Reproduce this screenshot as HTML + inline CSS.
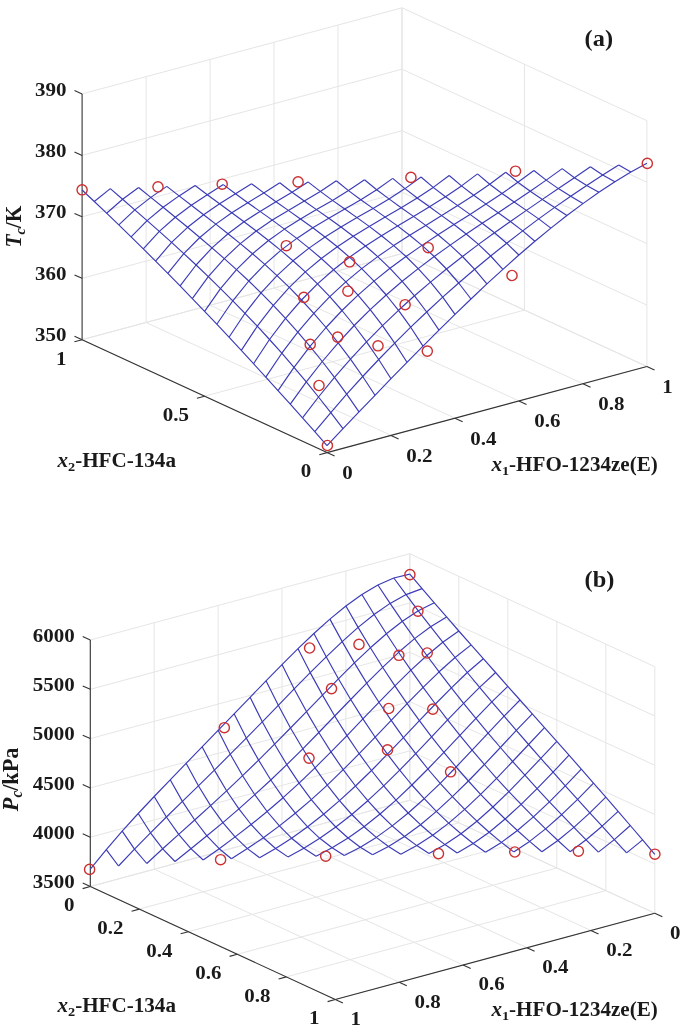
<!DOCTYPE html>
<html><head><meta charset="utf-8"><title>Critical surfaces</title>
<style>html,body{margin:0;padding:0;background:#fff}svg{display:block}text{font-family:"Liberation Serif",serif;font-weight:bold;fill:#1a1a1a}</style>
</head><body>
<svg width="685" height="1032" viewBox="0 0 685 1032">
<rect width="685" height="1032" fill="#fff"/>
<line x1="82.1" y1="339.7" x2="402.0" y2="253.6" stroke="#e5e5e5" stroke-width="1.0"/>
<line x1="402.0" y1="253.6" x2="646.9" y2="366.5" stroke="#e5e5e5" stroke-width="1.0"/>
<line x1="82.1" y1="278.3" x2="402.0" y2="192.2" stroke="#e5e5e5" stroke-width="1.0"/>
<line x1="402.0" y1="192.2" x2="646.9" y2="305.1" stroke="#e5e5e5" stroke-width="1.0"/>
<line x1="82.1" y1="216.8" x2="402.0" y2="130.7" stroke="#e5e5e5" stroke-width="1.0"/>
<line x1="402.0" y1="130.7" x2="646.9" y2="243.6" stroke="#e5e5e5" stroke-width="1.0"/>
<line x1="82.1" y1="155.4" x2="402.0" y2="69.2" stroke="#e5e5e5" stroke-width="1.0"/>
<line x1="402.0" y1="69.2" x2="646.9" y2="182.2" stroke="#e5e5e5" stroke-width="1.0"/>
<line x1="82.1" y1="93.9" x2="402.0" y2="7.8" stroke="#e5e5e5" stroke-width="1.0"/>
<line x1="402.0" y1="7.8" x2="646.9" y2="120.7" stroke="#e5e5e5" stroke-width="1.0"/>
<line x1="327.0" y1="452.6" x2="82.1" y2="339.7" stroke="#e5e5e5" stroke-width="1.0"/>
<line x1="146.1" y1="322.5" x2="146.1" y2="76.7" stroke="#e5e5e5" stroke-width="1.0"/>
<line x1="391.0" y1="435.4" x2="146.1" y2="322.5" stroke="#e5e5e5" stroke-width="1.0"/>
<line x1="210.1" y1="305.3" x2="210.1" y2="59.5" stroke="#e5e5e5" stroke-width="1.0"/>
<line x1="455.0" y1="418.2" x2="210.1" y2="305.3" stroke="#e5e5e5" stroke-width="1.0"/>
<line x1="274.0" y1="288.0" x2="274.0" y2="42.2" stroke="#e5e5e5" stroke-width="1.0"/>
<line x1="518.9" y1="400.9" x2="274.0" y2="288.0" stroke="#e5e5e5" stroke-width="1.0"/>
<line x1="338.0" y1="270.8" x2="338.0" y2="25.0" stroke="#e5e5e5" stroke-width="1.0"/>
<line x1="582.9" y1="383.7" x2="338.0" y2="270.8" stroke="#e5e5e5" stroke-width="1.0"/>
<line x1="402.0" y1="253.6" x2="402.0" y2="7.8" stroke="#e5e5e5" stroke-width="1.0"/>
<line x1="646.9" y1="366.5" x2="402.0" y2="253.6" stroke="#e5e5e5" stroke-width="1.0"/>
<line x1="646.9" y1="366.5" x2="646.9" y2="120.7" stroke="#e5e5e5" stroke-width="1.0"/>
<line x1="327.0" y1="452.6" x2="646.9" y2="366.5" stroke="#e5e5e5" stroke-width="1.0"/>
<line x1="524.4" y1="310.1" x2="524.4" y2="64.3" stroke="#e5e5e5" stroke-width="1.0"/>
<line x1="204.6" y1="396.2" x2="524.4" y2="310.1" stroke="#e5e5e5" stroke-width="1.0"/>
<line x1="402.0" y1="253.6" x2="402.0" y2="7.8" stroke="#e5e5e5" stroke-width="1.0"/>
<line x1="82.1" y1="339.7" x2="402.0" y2="253.6" stroke="#e5e5e5" stroke-width="1.0"/>
<line x1="82.1" y1="339.7" x2="82.1" y2="93.9" stroke="#333333" stroke-width="1.1"/>
<line x1="327.0" y1="452.6" x2="82.1" y2="339.7" stroke="#333333" stroke-width="1.1"/>
<line x1="327.0" y1="452.6" x2="646.9" y2="366.5" stroke="#333333" stroke-width="1.1"/>
<line x1="82.1" y1="339.7" x2="74.5" y2="336.3" stroke="#333333" stroke-width="1.1"/>
<text transform="translate(66.5,341.3) scale(1.06,1)" font-size="19.8" text-anchor="end" >350</text>
<line x1="82.1" y1="278.3" x2="74.5" y2="274.9" stroke="#333333" stroke-width="1.1"/>
<text transform="translate(66.5,279.9) scale(1.06,1)" font-size="19.8" text-anchor="end" >360</text>
<line x1="82.1" y1="216.8" x2="74.5" y2="213.4" stroke="#333333" stroke-width="1.1"/>
<text transform="translate(66.5,218.4) scale(1.06,1)" font-size="19.8" text-anchor="end" >370</text>
<line x1="82.1" y1="155.4" x2="74.5" y2="152.0" stroke="#333333" stroke-width="1.1"/>
<text transform="translate(66.5,157.0) scale(1.06,1)" font-size="19.8" text-anchor="end" >380</text>
<line x1="82.1" y1="93.9" x2="74.5" y2="90.5" stroke="#333333" stroke-width="1.1"/>
<text transform="translate(66.5,95.5) scale(1.06,1)" font-size="19.8" text-anchor="end" >390</text>
<line x1="327.0" y1="452.6" x2="319.3" y2="454.7" stroke="#333333" stroke-width="1.1"/>
<text transform="translate(311.3,477.4) scale(1.06,1)" font-size="19.8" text-anchor="end" >0</text>
<line x1="204.6" y1="396.2" x2="196.9" y2="398.3" stroke="#333333" stroke-width="1.1"/>
<text transform="translate(188.9,421.0) scale(1.06,1)" font-size="19.8" text-anchor="end" >0.5</text>
<line x1="82.1" y1="339.7" x2="74.4" y2="341.8" stroke="#333333" stroke-width="1.1"/>
<text transform="translate(66.4,364.5) scale(1.06,1)" font-size="19.8" text-anchor="end" >1</text>
<line x1="327.0" y1="452.6" x2="334.6" y2="456.1" stroke="#333333" stroke-width="1.1"/>
<text transform="translate(342.3,478.9) scale(1.06,1)" font-size="19.8" text-anchor="start" >0</text>
<line x1="391.0" y1="435.4" x2="398.6" y2="438.9" stroke="#333333" stroke-width="1.1"/>
<text transform="translate(406.3,461.7) scale(1.06,1)" font-size="19.8" text-anchor="start" >0.2</text>
<line x1="455.0" y1="418.2" x2="462.6" y2="421.7" stroke="#333333" stroke-width="1.1"/>
<text transform="translate(470.3,444.5) scale(1.06,1)" font-size="19.8" text-anchor="start" >0.4</text>
<line x1="518.9" y1="400.9" x2="526.5" y2="404.4" stroke="#333333" stroke-width="1.1"/>
<text transform="translate(534.2,427.2) scale(1.06,1)" font-size="19.8" text-anchor="start" >0.6</text>
<line x1="582.9" y1="383.7" x2="590.5" y2="387.2" stroke="#333333" stroke-width="1.1"/>
<text transform="translate(598.2,410.0) scale(1.06,1)" font-size="19.8" text-anchor="start" >0.8</text>
<line x1="646.9" y1="366.5" x2="654.5" y2="370.0" stroke="#333333" stroke-width="1.1"/>
<text transform="translate(662.2,392.8) scale(1.06,1)" font-size="19.8" text-anchor="start" >1</text>
<polyline fill="none" stroke="#3a3ab8" stroke-width="1.15" stroke-linejoin="round" points="327.0,445.6 343.0,428.7 359.0,411.9 375.0,395.3 391.0,378.7 407.0,362.3 423.0,346.1 439.0,330.1 455.0,314.4 471.0,299.0 486.9,283.9 502.9,269.3 518.9,255.0 534.9,241.3 550.9,228.1 566.9,215.5 582.9,203.6 598.9,192.3 614.9,181.8 630.9,172.1 646.9,163.2"/>
<polyline fill="none" stroke="#3a3ab8" stroke-width="1.15" stroke-linejoin="round" points="314.8,431.7 330.8,412.6 346.7,394.2 362.7,376.5 378.7,359.5 394.7,343.1 410.7,327.2 426.7,312.0 442.7,297.2 458.7,283.0 474.7,269.3 490.7,256.0 506.7,243.2 522.7,230.9 538.7,218.9 554.7,207.4 570.7,196.2 586.7,185.4 602.7,175.0 618.7,165.0"/>
<polyline fill="none" stroke="#3a3ab8" stroke-width="1.15" stroke-linejoin="round" points="302.5,417.9 318.5,397.0 334.5,377.4 350.5,359.1 366.5,341.8 382.5,325.6 398.5,310.3 414.5,295.8 430.5,282.1 446.5,269.0 462.5,256.5 478.5,244.4 494.5,232.8 510.4,221.5 526.4,210.4 542.4,199.4 558.4,188.6 574.4,177.7 590.4,166.8"/>
<polyline fill="none" stroke="#3a3ab8" stroke-width="1.15" stroke-linejoin="round" points="290.3,404.2 306.3,381.9 322.3,361.5 338.2,342.8 354.2,325.5 370.2,309.7 386.2,295.0 402.2,281.3 418.2,268.6 434.2,256.5 450.2,245.1 466.2,234.0 482.2,223.3 498.2,212.7 514.2,202.0 530.2,191.2 546.2,180.1 562.2,168.6"/>
<polyline fill="none" stroke="#3a3ab8" stroke-width="1.15" stroke-linejoin="round" points="278.0,390.6 294.0,367.3 310.0,346.4 326.0,327.5 342.0,310.5 358.0,295.1 374.0,281.1 390.0,268.3 406.0,256.5 422.0,245.4 438.0,234.8 454.0,224.5 470.0,214.4 486.0,204.1 502.0,193.5 517.9,182.3 533.9,170.5"/>
<polyline fill="none" stroke="#3a3ab8" stroke-width="1.15" stroke-linejoin="round" points="265.8,377.1 281.8,353.2 297.8,332.1 313.8,313.3 329.8,296.7 345.8,281.9 361.7,268.6 377.7,256.6 393.7,245.6 409.7,235.3 425.7,225.4 441.7,215.6 457.7,205.6 473.7,195.3 489.7,184.2 505.7,172.2"/>
<polyline fill="none" stroke="#3a3ab8" stroke-width="1.15" stroke-linejoin="round" points="253.5,363.7 269.5,339.5 285.5,318.4 301.5,300.0 317.5,283.9 333.5,269.7 349.5,257.2 365.5,246.0 381.5,235.7 397.5,225.9 413.5,216.4 429.5,206.8 445.5,196.8 461.5,185.9 477.5,173.9"/>
<polyline fill="none" stroke="#3a3ab8" stroke-width="1.15" stroke-linejoin="round" points="241.3,350.4 257.3,326.2 273.3,305.4 289.3,287.4 305.3,271.9 321.3,258.5 337.3,246.7 353.2,236.2 369.2,226.4 385.2,217.1 401.2,207.7 417.2,198.0 433.2,187.4 449.2,175.5"/>
<polyline fill="none" stroke="#3a3ab8" stroke-width="1.15" stroke-linejoin="round" points="229.0,337.2 245.0,313.3 261.0,292.9 277.0,275.6 293.0,260.8 309.0,248.1 325.0,237.0 341.0,227.0 357.0,217.6 373.0,208.4 389.0,198.9 405.0,188.6 421.0,177.0"/>
<polyline fill="none" stroke="#3a3ab8" stroke-width="1.15" stroke-linejoin="round" points="216.8,324.2 232.8,300.8 248.8,281.0 264.8,264.4 280.8,250.4 296.8,238.4 312.8,227.8 328.8,218.2 344.8,209.0 360.8,199.7 376.7,189.7 392.7,178.4"/>
<polyline fill="none" stroke="#3a3ab8" stroke-width="1.15" stroke-linejoin="round" points="204.6,311.3 220.5,288.6 236.5,269.6 252.5,253.8 268.5,240.5 284.5,229.1 300.5,219.0 316.5,209.6 332.5,200.4 348.5,190.6 364.5,179.7"/>
<polyline fill="none" stroke="#3a3ab8" stroke-width="1.15" stroke-linejoin="round" points="192.3,298.6 208.3,276.7 224.3,258.6 240.3,243.6 256.3,231.0 272.3,220.1 288.3,210.4 304.3,201.0 320.3,191.4 336.3,180.8"/>
<polyline fill="none" stroke="#3a3ab8" stroke-width="1.15" stroke-linejoin="round" points="180.1,285.9 196.1,265.0 212.0,247.9 228.0,233.7 244.0,221.8 260.0,211.4 276.0,201.8 292.0,192.2 308.0,181.9"/>
<polyline fill="none" stroke="#3a3ab8" stroke-width="1.15" stroke-linejoin="round" points="167.8,273.4 183.8,253.6 199.8,237.5 215.8,224.1 231.8,212.8 247.8,202.7 263.8,192.9 279.8,182.8"/>
<polyline fill="none" stroke="#3a3ab8" stroke-width="1.15" stroke-linejoin="round" points="155.6,261.1 171.6,242.4 187.6,227.3 203.6,214.7 219.6,203.8 235.5,193.8 251.5,183.7"/>
<polyline fill="none" stroke="#3a3ab8" stroke-width="1.15" stroke-linejoin="round" points="143.3,248.9 159.3,231.4 175.3,217.2 191.3,205.3 207.3,194.8 223.3,184.6"/>
<polyline fill="none" stroke="#3a3ab8" stroke-width="1.15" stroke-linejoin="round" points="131.1,236.8 147.1,220.6 163.1,207.3 179.1,195.9 195.1,185.5"/>
<polyline fill="none" stroke="#3a3ab8" stroke-width="1.15" stroke-linejoin="round" points="118.8,224.9 134.8,209.9 150.8,197.4 166.8,186.4"/>
<polyline fill="none" stroke="#3a3ab8" stroke-width="1.15" stroke-linejoin="round" points="106.6,213.2 122.6,199.2 138.6,187.5"/>
<polyline fill="none" stroke="#3a3ab8" stroke-width="1.15" stroke-linejoin="round" points="94.3,201.5 110.3,188.6"/>
<polyline fill="none" stroke="#3a3ab8" stroke-width="1.15" stroke-linejoin="round" points="327.0,445.6 314.8,431.7 302.5,417.9 290.3,404.2 278.0,390.6 265.8,377.1 253.5,363.7 241.3,350.4 229.0,337.2 216.8,324.2 204.6,311.3 192.3,298.6 180.1,285.9 167.8,273.4 155.6,261.1 143.3,248.9 131.1,236.8 118.8,224.9 106.6,213.2 94.3,201.5 82.1,190.0"/>
<polyline fill="none" stroke="#3a3ab8" stroke-width="1.15" stroke-linejoin="round" points="343.0,428.7 330.8,412.6 318.5,397.0 306.3,381.9 294.0,367.3 281.8,353.2 269.5,339.5 257.3,326.2 245.0,313.3 232.8,300.8 220.5,288.6 208.3,276.7 196.1,265.0 183.8,253.6 171.6,242.4 159.3,231.4 147.1,220.6 134.8,209.9 122.6,199.2 110.3,188.6"/>
<polyline fill="none" stroke="#3a3ab8" stroke-width="1.15" stroke-linejoin="round" points="359.0,411.9 346.7,394.2 334.5,377.4 322.3,361.5 310.0,346.4 297.8,332.1 285.5,318.4 273.3,305.4 261.0,292.9 248.8,281.0 236.5,269.6 224.3,258.6 212.0,247.9 199.8,237.5 187.6,227.3 175.3,217.2 163.1,207.3 150.8,197.4 138.6,187.5"/>
<polyline fill="none" stroke="#3a3ab8" stroke-width="1.15" stroke-linejoin="round" points="375.0,395.3 362.7,376.5 350.5,359.1 338.2,342.8 326.0,327.5 313.8,313.3 301.5,300.0 289.3,287.4 277.0,275.6 264.8,264.4 252.5,253.8 240.3,243.6 228.0,233.7 215.8,224.1 203.6,214.7 191.3,205.3 179.1,195.9 166.8,186.4"/>
<polyline fill="none" stroke="#3a3ab8" stroke-width="1.15" stroke-linejoin="round" points="391.0,378.7 378.7,359.5 366.5,341.8 354.2,325.5 342.0,310.5 329.8,296.7 317.5,283.9 305.3,271.9 293.0,260.8 280.8,250.4 268.5,240.5 256.3,231.0 244.0,221.8 231.8,212.8 219.6,203.8 207.3,194.8 195.1,185.5"/>
<polyline fill="none" stroke="#3a3ab8" stroke-width="1.15" stroke-linejoin="round" points="407.0,362.3 394.7,343.1 382.5,325.6 370.2,309.7 358.0,295.1 345.8,281.9 333.5,269.7 321.3,258.5 309.0,248.1 296.8,238.4 284.5,229.1 272.3,220.1 260.0,211.4 247.8,202.7 235.5,193.8 223.3,184.6"/>
<polyline fill="none" stroke="#3a3ab8" stroke-width="1.15" stroke-linejoin="round" points="423.0,346.1 410.7,327.2 398.5,310.3 386.2,295.0 374.0,281.1 361.7,268.6 349.5,257.2 337.3,246.7 325.0,237.0 312.8,227.8 300.5,219.0 288.3,210.4 276.0,201.8 263.8,192.9 251.5,183.7"/>
<polyline fill="none" stroke="#3a3ab8" stroke-width="1.15" stroke-linejoin="round" points="439.0,330.1 426.7,312.0 414.5,295.8 402.2,281.3 390.0,268.3 377.7,256.6 365.5,246.0 353.2,236.2 341.0,227.0 328.8,218.2 316.5,209.6 304.3,201.0 292.0,192.2 279.8,182.8"/>
<polyline fill="none" stroke="#3a3ab8" stroke-width="1.15" stroke-linejoin="round" points="455.0,314.4 442.7,297.2 430.5,282.1 418.2,268.6 406.0,256.5 393.7,245.6 381.5,235.7 369.2,226.4 357.0,217.6 344.8,209.0 332.5,200.4 320.3,191.4 308.0,181.9"/>
<polyline fill="none" stroke="#3a3ab8" stroke-width="1.15" stroke-linejoin="round" points="471.0,299.0 458.7,283.0 446.5,269.0 434.2,256.5 422.0,245.4 409.7,235.3 397.5,225.9 385.2,217.1 373.0,208.4 360.8,199.7 348.5,190.6 336.3,180.8"/>
<polyline fill="none" stroke="#3a3ab8" stroke-width="1.15" stroke-linejoin="round" points="486.9,283.9 474.7,269.3 462.5,256.5 450.2,245.1 438.0,234.8 425.7,225.4 413.5,216.4 401.2,207.7 389.0,198.9 376.7,189.7 364.5,179.7"/>
<polyline fill="none" stroke="#3a3ab8" stroke-width="1.15" stroke-linejoin="round" points="502.9,269.3 490.7,256.0 478.5,244.4 466.2,234.0 454.0,224.5 441.7,215.6 429.5,206.8 417.2,198.0 405.0,188.6 392.7,178.4"/>
<polyline fill="none" stroke="#3a3ab8" stroke-width="1.15" stroke-linejoin="round" points="518.9,255.0 506.7,243.2 494.5,232.8 482.2,223.3 470.0,214.4 457.7,205.6 445.5,196.8 433.2,187.4 421.0,177.0"/>
<polyline fill="none" stroke="#3a3ab8" stroke-width="1.15" stroke-linejoin="round" points="534.9,241.3 522.7,230.9 510.4,221.5 498.2,212.7 486.0,204.1 473.7,195.3 461.5,185.9 449.2,175.5"/>
<polyline fill="none" stroke="#3a3ab8" stroke-width="1.15" stroke-linejoin="round" points="550.9,228.1 538.7,218.9 526.4,210.4 514.2,202.0 502.0,193.5 489.7,184.2 477.5,173.9"/>
<polyline fill="none" stroke="#3a3ab8" stroke-width="1.15" stroke-linejoin="round" points="566.9,215.5 554.7,207.4 542.4,199.4 530.2,191.2 517.9,182.3 505.7,172.2"/>
<polyline fill="none" stroke="#3a3ab8" stroke-width="1.15" stroke-linejoin="round" points="582.9,203.6 570.7,196.2 558.4,188.6 546.2,180.1 533.9,170.5"/>
<polyline fill="none" stroke="#3a3ab8" stroke-width="1.15" stroke-linejoin="round" points="598.9,192.3 586.7,185.4 574.4,177.7 562.2,168.6"/>
<polyline fill="none" stroke="#3a3ab8" stroke-width="1.15" stroke-linejoin="round" points="614.9,181.8 602.7,175.0 590.4,166.8"/>
<polyline fill="none" stroke="#3a3ab8" stroke-width="1.15" stroke-linejoin="round" points="630.9,172.1 618.7,165.0"/>
<circle cx="82.1" cy="189.8" r="5.1" fill="none" stroke="#cc3030" stroke-width="1.4"/>
<circle cx="158.0" cy="186.8" r="5.1" fill="none" stroke="#cc3030" stroke-width="1.4"/>
<circle cx="222.2" cy="184.2" r="5.1" fill="none" stroke="#cc3030" stroke-width="1.4"/>
<circle cx="298.1" cy="181.9" r="5.1" fill="none" stroke="#cc3030" stroke-width="1.4"/>
<circle cx="410.9" cy="177.4" r="5.1" fill="none" stroke="#cc3030" stroke-width="1.4"/>
<circle cx="515.5" cy="171.2" r="5.1" fill="none" stroke="#cc3030" stroke-width="1.4"/>
<circle cx="647.3" cy="163.4" r="5.1" fill="none" stroke="#cc3030" stroke-width="1.4"/>
<circle cx="286.3" cy="245.7" r="5.1" fill="none" stroke="#cc3030" stroke-width="1.4"/>
<circle cx="349.6" cy="261.8" r="5.1" fill="none" stroke="#cc3030" stroke-width="1.4"/>
<circle cx="428.2" cy="247.7" r="5.1" fill="none" stroke="#cc3030" stroke-width="1.4"/>
<circle cx="303.8" cy="297.4" r="5.1" fill="none" stroke="#cc3030" stroke-width="1.4"/>
<circle cx="347.9" cy="291.2" r="5.1" fill="none" stroke="#cc3030" stroke-width="1.4"/>
<circle cx="405.1" cy="304.7" r="5.1" fill="none" stroke="#cc3030" stroke-width="1.4"/>
<circle cx="310.2" cy="344.4" r="5.1" fill="none" stroke="#cc3030" stroke-width="1.4"/>
<circle cx="337.7" cy="337.1" r="5.1" fill="none" stroke="#cc3030" stroke-width="1.4"/>
<circle cx="378.0" cy="345.8" r="5.1" fill="none" stroke="#cc3030" stroke-width="1.4"/>
<circle cx="427.3" cy="351.1" r="5.1" fill="none" stroke="#cc3030" stroke-width="1.4"/>
<circle cx="319.0" cy="385.5" r="5.1" fill="none" stroke="#cc3030" stroke-width="1.4"/>
<circle cx="512.0" cy="275.5" r="5.1" fill="none" stroke="#cc3030" stroke-width="1.4"/>
<circle cx="327.4" cy="445.5" r="5.1" fill="none" stroke="#cc3030" stroke-width="1.4"/>
<text transform="translate(584.6,46.2) scale(1.06,1)" font-size="23" text-anchor="start" >(a)</text>
<text transform="translate(57.5,466.7) scale(1.06,1)" font-size="19.9"><tspan font-style="italic">x</tspan><tspan font-size="13.5" dy="4">2</tspan><tspan dy="-4">-HFC-134a</tspan></text>
<text transform="translate(491.4,471.4) scale(1.06,1)" font-size="19.9"><tspan font-style="italic">x</tspan><tspan font-size="13.5" dy="4">1</tspan><tspan dy="-4">-HFO-1234ze(E)</tspan></text>
<text transform="translate(21.0,247.6) scale(1.06,1) rotate(-90)" font-size="21.3"><tspan font-style="italic">T</tspan><tspan font-style="italic" font-size="14.5" dy="4">c</tspan><tspan dy="-4">/K</tspan></text>
<line x1="90.3" y1="886.5" x2="409.8" y2="800.2" stroke="#e5e5e5" stroke-width="1.0"/>
<line x1="409.8" y1="800.2" x2="654.8" y2="913.2" stroke="#e5e5e5" stroke-width="1.0"/>
<line x1="90.3" y1="837.2" x2="409.8" y2="750.9" stroke="#e5e5e5" stroke-width="1.0"/>
<line x1="409.8" y1="750.9" x2="654.8" y2="863.9" stroke="#e5e5e5" stroke-width="1.0"/>
<line x1="90.3" y1="787.9" x2="409.8" y2="701.6" stroke="#e5e5e5" stroke-width="1.0"/>
<line x1="409.8" y1="701.6" x2="654.8" y2="814.6" stroke="#e5e5e5" stroke-width="1.0"/>
<line x1="90.3" y1="738.6" x2="409.8" y2="652.3" stroke="#e5e5e5" stroke-width="1.0"/>
<line x1="409.8" y1="652.3" x2="654.8" y2="765.3" stroke="#e5e5e5" stroke-width="1.0"/>
<line x1="90.3" y1="689.3" x2="409.8" y2="603.0" stroke="#e5e5e5" stroke-width="1.0"/>
<line x1="409.8" y1="603.0" x2="654.8" y2="716.0" stroke="#e5e5e5" stroke-width="1.0"/>
<line x1="90.3" y1="640.0" x2="409.8" y2="553.7" stroke="#e5e5e5" stroke-width="1.0"/>
<line x1="409.8" y1="553.7" x2="654.8" y2="666.7" stroke="#e5e5e5" stroke-width="1.0"/>
<line x1="409.8" y1="800.2" x2="409.8" y2="553.7" stroke="#e5e5e5" stroke-width="1.0"/>
<line x1="409.8" y1="800.2" x2="654.8" y2="913.2" stroke="#e5e5e5" stroke-width="1.0"/>
<line x1="345.9" y1="817.5" x2="345.9" y2="571.0" stroke="#e5e5e5" stroke-width="1.0"/>
<line x1="345.9" y1="817.5" x2="590.9" y2="930.5" stroke="#e5e5e5" stroke-width="1.0"/>
<line x1="282.0" y1="834.7" x2="282.0" y2="588.2" stroke="#e5e5e5" stroke-width="1.0"/>
<line x1="282.0" y1="834.7" x2="527.0" y2="947.7" stroke="#e5e5e5" stroke-width="1.0"/>
<line x1="218.1" y1="852.0" x2="218.1" y2="605.5" stroke="#e5e5e5" stroke-width="1.0"/>
<line x1="218.1" y1="852.0" x2="463.1" y2="965.0" stroke="#e5e5e5" stroke-width="1.0"/>
<line x1="154.2" y1="869.2" x2="154.2" y2="622.7" stroke="#e5e5e5" stroke-width="1.0"/>
<line x1="154.2" y1="869.2" x2="399.2" y2="982.2" stroke="#e5e5e5" stroke-width="1.0"/>
<line x1="90.3" y1="886.5" x2="90.3" y2="640.0" stroke="#e5e5e5" stroke-width="1.0"/>
<line x1="90.3" y1="886.5" x2="335.3" y2="999.5" stroke="#e5e5e5" stroke-width="1.0"/>
<line x1="409.8" y1="800.2" x2="409.8" y2="553.7" stroke="#e5e5e5" stroke-width="1.0"/>
<line x1="409.8" y1="800.2" x2="90.3" y2="886.5" stroke="#e5e5e5" stroke-width="1.0"/>
<line x1="458.8" y1="822.8" x2="458.8" y2="576.3" stroke="#e5e5e5" stroke-width="1.0"/>
<line x1="458.8" y1="822.8" x2="139.3" y2="909.1" stroke="#e5e5e5" stroke-width="1.0"/>
<line x1="507.8" y1="845.4" x2="507.8" y2="598.9" stroke="#e5e5e5" stroke-width="1.0"/>
<line x1="507.8" y1="845.4" x2="188.3" y2="931.7" stroke="#e5e5e5" stroke-width="1.0"/>
<line x1="556.8" y1="868.0" x2="556.8" y2="621.5" stroke="#e5e5e5" stroke-width="1.0"/>
<line x1="556.8" y1="868.0" x2="237.3" y2="954.3" stroke="#e5e5e5" stroke-width="1.0"/>
<line x1="605.8" y1="890.6" x2="605.8" y2="644.1" stroke="#e5e5e5" stroke-width="1.0"/>
<line x1="605.8" y1="890.6" x2="286.3" y2="976.9" stroke="#e5e5e5" stroke-width="1.0"/>
<line x1="654.8" y1="913.2" x2="654.8" y2="666.7" stroke="#e5e5e5" stroke-width="1.0"/>
<line x1="654.8" y1="913.2" x2="335.3" y2="999.5" stroke="#e5e5e5" stroke-width="1.0"/>
<line x1="90.3" y1="886.5" x2="90.3" y2="640.0" stroke="#333333" stroke-width="1.1"/>
<line x1="90.3" y1="886.5" x2="335.3" y2="999.5" stroke="#333333" stroke-width="1.1"/>
<line x1="335.3" y1="999.5" x2="654.8" y2="913.2" stroke="#333333" stroke-width="1.1"/>
<line x1="90.3" y1="886.5" x2="82.7" y2="883.1" stroke="#333333" stroke-width="1.1"/>
<text transform="translate(74.8,888.1) scale(1.06,1)" font-size="19.8" text-anchor="end" >3500</text>
<line x1="90.3" y1="837.2" x2="82.7" y2="833.8" stroke="#333333" stroke-width="1.1"/>
<text transform="translate(74.8,838.8) scale(1.06,1)" font-size="19.8" text-anchor="end" >4000</text>
<line x1="90.3" y1="787.9" x2="82.7" y2="784.5" stroke="#333333" stroke-width="1.1"/>
<text transform="translate(74.8,789.5) scale(1.06,1)" font-size="19.8" text-anchor="end" >4500</text>
<line x1="90.3" y1="738.6" x2="82.7" y2="735.2" stroke="#333333" stroke-width="1.1"/>
<text transform="translate(74.8,740.2) scale(1.06,1)" font-size="19.8" text-anchor="end" >5000</text>
<line x1="90.3" y1="689.3" x2="82.7" y2="685.9" stroke="#333333" stroke-width="1.1"/>
<text transform="translate(74.8,690.9) scale(1.06,1)" font-size="19.8" text-anchor="end" >5500</text>
<line x1="90.3" y1="640.0" x2="82.7" y2="636.6" stroke="#333333" stroke-width="1.1"/>
<text transform="translate(74.8,641.6) scale(1.06,1)" font-size="19.8" text-anchor="end" >6000</text>
<line x1="90.3" y1="886.5" x2="82.6" y2="888.6" stroke="#333333" stroke-width="1.1"/>
<text transform="translate(74.6,911.3) scale(1.06,1)" font-size="19.8" text-anchor="end" >0</text>
<line x1="139.3" y1="909.1" x2="131.6" y2="911.2" stroke="#333333" stroke-width="1.1"/>
<text transform="translate(123.6,933.9) scale(1.06,1)" font-size="19.8" text-anchor="end" >0.2</text>
<line x1="188.3" y1="931.7" x2="180.6" y2="933.8" stroke="#333333" stroke-width="1.1"/>
<text transform="translate(172.6,956.5) scale(1.06,1)" font-size="19.8" text-anchor="end" >0.4</text>
<line x1="237.3" y1="954.3" x2="229.6" y2="956.4" stroke="#333333" stroke-width="1.1"/>
<text transform="translate(221.6,979.1) scale(1.06,1)" font-size="19.8" text-anchor="end" >0.6</text>
<line x1="286.3" y1="976.9" x2="278.6" y2="979.0" stroke="#333333" stroke-width="1.1"/>
<text transform="translate(270.6,1001.7) scale(1.06,1)" font-size="19.8" text-anchor="end" >0.8</text>
<line x1="335.3" y1="999.5" x2="327.6" y2="1001.6" stroke="#333333" stroke-width="1.1"/>
<text transform="translate(319.6,1024.3) scale(1.06,1)" font-size="19.8" text-anchor="end" >1</text>
<line x1="654.8" y1="913.2" x2="662.4" y2="916.7" stroke="#333333" stroke-width="1.1"/>
<text transform="translate(670.1,938.5) scale(1.06,1)" font-size="19.8" text-anchor="start" >0</text>
<line x1="590.9" y1="930.5" x2="598.5" y2="934.0" stroke="#333333" stroke-width="1.1"/>
<text transform="translate(606.2,955.8) scale(1.06,1)" font-size="19.8" text-anchor="start" >0.2</text>
<line x1="527.0" y1="947.7" x2="534.6" y2="951.2" stroke="#333333" stroke-width="1.1"/>
<text transform="translate(542.3,973.0) scale(1.06,1)" font-size="19.8" text-anchor="start" >0.4</text>
<line x1="463.1" y1="965.0" x2="470.7" y2="968.5" stroke="#333333" stroke-width="1.1"/>
<text transform="translate(478.4,990.3) scale(1.06,1)" font-size="19.8" text-anchor="start" >0.6</text>
<line x1="399.2" y1="982.2" x2="406.8" y2="985.7" stroke="#333333" stroke-width="1.1"/>
<text transform="translate(414.5,1007.5) scale(1.06,1)" font-size="19.8" text-anchor="start" >0.8</text>
<line x1="335.3" y1="999.5" x2="342.9" y2="1003.0" stroke="#333333" stroke-width="1.1"/>
<text transform="translate(350.6,1024.8) scale(1.06,1)" font-size="19.8" text-anchor="start" >1</text>
<polyline fill="none" stroke="#3a3ab8" stroke-width="1.15" stroke-linejoin="round" points="409.8,574.1 393.8,578.0 377.9,585.0 361.9,594.5 345.9,606.0 329.9,619.1 313.9,633.5 298.0,648.7 282.0,664.6 266.0,680.8 250.1,697.3 234.1,713.8 218.1,730.3 202.1,746.8 186.1,763.3 170.2,779.8 154.2,796.5 138.2,813.5 122.2,831.2 106.3,849.6 90.3,869.2"/>
<polyline fill="none" stroke="#3a3ab8" stroke-width="1.15" stroke-linejoin="round" points="422.1,588.6 406.1,594.6 390.1,603.4 374.1,614.5 358.1,627.4 342.2,641.6 326.2,656.8 310.2,672.6 294.2,688.9 278.3,705.3 262.3,721.8 246.3,738.1 230.3,754.2 214.4,770.1 198.4,785.8 182.4,801.4 166.4,817.0 150.5,832.8 134.5,849.1 118.5,866.0"/>
<polyline fill="none" stroke="#3a3ab8" stroke-width="1.15" stroke-linejoin="round" points="434.3,602.8 418.3,610.8 402.4,621.3 386.4,633.8 370.4,647.8 354.4,662.9 338.4,678.8 322.5,695.1 306.5,711.6 290.5,728.0 274.6,744.2 258.6,760.1 242.6,775.7 226.6,790.8 210.6,805.6 194.7,820.0 178.7,834.4 162.7,848.8 146.8,863.5"/>
<polyline fill="none" stroke="#3a3ab8" stroke-width="1.15" stroke-linejoin="round" points="446.6,616.9 430.6,626.7 414.6,638.6 398.6,652.3 382.6,667.3 366.7,683.1 350.7,699.5 334.7,716.0 318.8,732.5 302.8,748.8 286.8,764.6 270.8,780.0 254.8,794.7 238.9,808.9 222.9,822.6 206.9,835.8 190.9,848.7 175.0,861.5"/>
<polyline fill="none" stroke="#3a3ab8" stroke-width="1.15" stroke-linejoin="round" points="458.8,631.0 442.8,642.2 426.9,655.5 410.9,670.2 394.9,685.9 378.9,702.3 362.9,718.9 347.0,735.6 331.0,751.9 315.0,767.8 299.1,783.1 283.1,797.7 267.1,811.5 251.1,824.5 235.1,836.9 219.2,848.7 203.2,860.0"/>
<polyline fill="none" stroke="#3a3ab8" stroke-width="1.15" stroke-linejoin="round" points="471.1,644.9 455.1,657.5 439.1,671.8 423.1,687.4 407.1,703.7 391.2,720.4 375.2,737.2 359.2,753.7 343.2,769.7 327.3,785.1 311.3,799.6 295.3,813.2 279.4,825.9 263.4,837.7 247.4,848.6 231.4,858.8"/>
<polyline fill="none" stroke="#3a3ab8" stroke-width="1.15" stroke-linejoin="round" points="483.3,658.7 467.3,672.5 451.4,687.8 435.4,704.0 419.4,720.7 403.4,737.6 387.4,754.2 371.5,770.5 355.5,786.0 339.5,800.6 323.6,814.2 307.6,826.8 291.6,838.2 275.6,848.5 259.6,857.8"/>
<polyline fill="none" stroke="#3a3ab8" stroke-width="1.15" stroke-linejoin="round" points="495.6,672.5 479.6,687.3 463.6,703.3 447.6,719.9 431.6,736.9 415.7,753.7 399.7,770.2 383.7,785.9 367.8,800.7 351.8,814.5 335.8,827.0 319.8,838.3 303.9,848.2 287.9,856.9"/>
<polyline fill="none" stroke="#3a3ab8" stroke-width="1.15" stroke-linejoin="round" points="507.8,686.3 491.8,701.9 475.9,718.4 459.9,735.3 443.9,752.3 427.9,769.0 411.9,785.0 396.0,800.1 380.0,814.0 364.0,826.7 348.1,838.0 332.1,847.8 316.1,856.2"/>
<polyline fill="none" stroke="#3a3ab8" stroke-width="1.15" stroke-linejoin="round" points="520.0,700.0 504.1,716.2 488.1,733.1 472.1,750.2 456.1,767.0 440.2,783.3 424.2,798.7 408.2,813.0 392.2,825.9 376.3,837.4 360.3,847.3 344.3,855.5"/>
<polyline fill="none" stroke="#3a3ab8" stroke-width="1.15" stroke-linejoin="round" points="532.3,713.8 516.3,730.4 500.4,747.5 484.4,764.5 468.4,781.0 452.4,796.7 436.4,811.4 420.5,824.7 404.5,836.5 388.5,846.5 372.6,854.8"/>
<polyline fill="none" stroke="#3a3ab8" stroke-width="1.15" stroke-linejoin="round" points="544.5,727.6 528.6,744.5 512.6,761.5 496.6,778.3 480.6,794.3 464.7,809.4 448.7,823.1 432.7,835.2 416.8,845.6 400.8,854.2"/>
<polyline fill="none" stroke="#3a3ab8" stroke-width="1.15" stroke-linejoin="round" points="556.8,741.4 540.8,758.4 524.9,775.2 508.9,791.6 492.9,807.0 476.9,821.2 461.0,833.8 445.0,844.6 429.0,853.5"/>
<polyline fill="none" stroke="#3a3ab8" stroke-width="1.15" stroke-linejoin="round" points="569.0,755.2 553.1,772.1 537.1,788.7 521.1,804.4 505.1,819.0 489.2,832.2 473.2,843.5 457.2,852.9"/>
<polyline fill="none" stroke="#3a3ab8" stroke-width="1.15" stroke-linejoin="round" points="581.3,769.1 565.3,785.8 549.4,801.8 533.4,816.9 517.4,830.5 501.4,842.4 485.5,852.3"/>
<polyline fill="none" stroke="#3a3ab8" stroke-width="1.15" stroke-linejoin="round" points="593.5,783.1 577.6,799.3 561.6,814.7 545.6,828.9 529.6,841.4 513.7,851.9"/>
<polyline fill="none" stroke="#3a3ab8" stroke-width="1.15" stroke-linejoin="round" points="605.8,797.1 589.8,812.8 573.9,827.4 557.9,840.5 541.9,851.7"/>
<polyline fill="none" stroke="#3a3ab8" stroke-width="1.15" stroke-linejoin="round" points="618.1,811.3 602.1,826.2 586.1,839.8 570.1,851.7"/>
<polyline fill="none" stroke="#3a3ab8" stroke-width="1.15" stroke-linejoin="round" points="630.3,825.5 614.3,839.6 598.4,852.1"/>
<polyline fill="none" stroke="#3a3ab8" stroke-width="1.15" stroke-linejoin="round" points="642.6,839.9 626.6,852.9"/>
<polyline fill="none" stroke="#3a3ab8" stroke-width="1.15" stroke-linejoin="round" points="409.8,574.1 422.1,588.6 434.3,602.8 446.6,616.9 458.8,631.0 471.1,644.9 483.3,658.7 495.6,672.5 507.8,686.3 520.0,700.0 532.3,713.8 544.5,727.6 556.8,741.4 569.0,755.2 581.3,769.1 593.5,783.1 605.8,797.1 618.1,811.3 630.3,825.5 642.6,839.9 654.8,854.4"/>
<polyline fill="none" stroke="#3a3ab8" stroke-width="1.15" stroke-linejoin="round" points="393.8,578.0 406.1,594.6 418.3,610.8 430.6,626.7 442.8,642.2 455.1,657.5 467.3,672.5 479.6,687.3 491.8,701.9 504.1,716.2 516.3,730.4 528.6,744.5 540.8,758.4 553.1,772.1 565.3,785.8 577.6,799.3 589.8,812.8 602.1,826.2 614.3,839.6 626.6,852.9"/>
<polyline fill="none" stroke="#3a3ab8" stroke-width="1.15" stroke-linejoin="round" points="377.9,585.0 390.1,603.4 402.4,621.3 414.6,638.6 426.9,655.5 439.1,671.8 451.4,687.8 463.6,703.3 475.9,718.4 488.1,733.1 500.4,747.5 512.6,761.5 524.9,775.2 537.1,788.7 549.4,801.8 561.6,814.7 573.9,827.4 586.1,839.8 598.4,852.1"/>
<polyline fill="none" stroke="#3a3ab8" stroke-width="1.15" stroke-linejoin="round" points="361.9,594.5 374.1,614.5 386.4,633.8 398.6,652.3 410.9,670.2 423.1,687.4 435.4,704.0 447.6,719.9 459.9,735.3 472.1,750.2 484.4,764.5 496.6,778.3 508.9,791.6 521.1,804.4 533.4,816.9 545.6,828.9 557.9,840.5 570.1,851.7"/>
<polyline fill="none" stroke="#3a3ab8" stroke-width="1.15" stroke-linejoin="round" points="345.9,606.0 358.1,627.4 370.4,647.8 382.6,667.3 394.9,685.9 407.1,703.7 419.4,720.7 431.6,736.9 443.9,752.3 456.1,767.0 468.4,781.0 480.6,794.3 492.9,807.0 505.1,819.0 517.4,830.5 529.6,841.4 541.9,851.7"/>
<polyline fill="none" stroke="#3a3ab8" stroke-width="1.15" stroke-linejoin="round" points="329.9,619.1 342.2,641.6 354.4,662.9 366.7,683.1 378.9,702.3 391.2,720.4 403.4,737.6 415.7,753.7 427.9,769.0 440.2,783.3 452.4,796.7 464.7,809.4 476.9,821.2 489.2,832.2 501.4,842.4 513.7,851.9"/>
<polyline fill="none" stroke="#3a3ab8" stroke-width="1.15" stroke-linejoin="round" points="313.9,633.5 326.2,656.8 338.4,678.8 350.7,699.5 362.9,718.9 375.2,737.2 387.4,754.2 399.7,770.2 411.9,785.0 424.2,798.7 436.4,811.4 448.7,823.1 461.0,833.8 473.2,843.5 485.5,852.3"/>
<polyline fill="none" stroke="#3a3ab8" stroke-width="1.15" stroke-linejoin="round" points="298.0,648.7 310.2,672.6 322.5,695.1 334.7,716.0 347.0,735.6 359.2,753.7 371.5,770.5 383.7,785.9 396.0,800.1 408.2,813.0 420.5,824.7 432.7,835.2 445.0,844.6 457.2,852.9"/>
<polyline fill="none" stroke="#3a3ab8" stroke-width="1.15" stroke-linejoin="round" points="282.0,664.6 294.2,688.9 306.5,711.6 318.8,732.5 331.0,751.9 343.2,769.7 355.5,786.0 367.8,800.7 380.0,814.0 392.2,825.9 404.5,836.5 416.8,845.6 429.0,853.5"/>
<polyline fill="none" stroke="#3a3ab8" stroke-width="1.15" stroke-linejoin="round" points="266.0,680.8 278.3,705.3 290.5,728.0 302.8,748.8 315.0,767.8 327.3,785.1 339.5,800.6 351.8,814.5 364.0,826.7 376.3,837.4 388.5,846.5 400.8,854.2"/>
<polyline fill="none" stroke="#3a3ab8" stroke-width="1.15" stroke-linejoin="round" points="250.1,697.3 262.3,721.8 274.6,744.2 286.8,764.6 299.1,783.1 311.3,799.6 323.6,814.2 335.8,827.0 348.1,838.0 360.3,847.3 372.6,854.8"/>
<polyline fill="none" stroke="#3a3ab8" stroke-width="1.15" stroke-linejoin="round" points="234.1,713.8 246.3,738.1 258.6,760.1 270.8,780.0 283.1,797.7 295.3,813.2 307.6,826.8 319.8,838.3 332.1,847.8 344.3,855.5"/>
<polyline fill="none" stroke="#3a3ab8" stroke-width="1.15" stroke-linejoin="round" points="218.1,730.3 230.3,754.2 242.6,775.7 254.8,794.7 267.1,811.5 279.4,825.9 291.6,838.2 303.9,848.2 316.1,856.2"/>
<polyline fill="none" stroke="#3a3ab8" stroke-width="1.15" stroke-linejoin="round" points="202.1,746.8 214.4,770.1 226.6,790.8 238.9,808.9 251.1,824.5 263.4,837.7 275.6,848.5 287.9,856.9"/>
<polyline fill="none" stroke="#3a3ab8" stroke-width="1.15" stroke-linejoin="round" points="186.1,763.3 198.4,785.8 210.6,805.6 222.9,822.6 235.1,836.9 247.4,848.6 259.6,857.8"/>
<polyline fill="none" stroke="#3a3ab8" stroke-width="1.15" stroke-linejoin="round" points="170.2,779.8 182.4,801.4 194.7,820.0 206.9,835.8 219.2,848.7 231.4,858.8"/>
<polyline fill="none" stroke="#3a3ab8" stroke-width="1.15" stroke-linejoin="round" points="154.2,796.5 166.4,817.0 178.7,834.4 190.9,848.7 203.2,860.0"/>
<polyline fill="none" stroke="#3a3ab8" stroke-width="1.15" stroke-linejoin="round" points="138.2,813.5 150.5,832.8 162.7,848.8 175.0,861.5"/>
<polyline fill="none" stroke="#3a3ab8" stroke-width="1.15" stroke-linejoin="round" points="122.2,831.2 134.5,849.1 146.8,863.5"/>
<polyline fill="none" stroke="#3a3ab8" stroke-width="1.15" stroke-linejoin="round" points="106.3,849.6 118.5,866.0"/>
<circle cx="89.6" cy="869.4" r="5.1" fill="none" stroke="#cc3030" stroke-width="1.4"/>
<circle cx="220.6" cy="859.7" r="5.1" fill="none" stroke="#cc3030" stroke-width="1.4"/>
<circle cx="325.7" cy="856.2" r="5.1" fill="none" stroke="#cc3030" stroke-width="1.4"/>
<circle cx="438.5" cy="853.6" r="5.1" fill="none" stroke="#cc3030" stroke-width="1.4"/>
<circle cx="514.8" cy="852.0" r="5.1" fill="none" stroke="#cc3030" stroke-width="1.4"/>
<circle cx="578.4" cy="851.2" r="5.1" fill="none" stroke="#cc3030" stroke-width="1.4"/>
<circle cx="654.9" cy="854.2" r="5.1" fill="none" stroke="#cc3030" stroke-width="1.4"/>
<circle cx="409.9" cy="574.6" r="5.1" fill="none" stroke="#cc3030" stroke-width="1.4"/>
<circle cx="417.9" cy="611.2" r="5.1" fill="none" stroke="#cc3030" stroke-width="1.4"/>
<circle cx="309.6" cy="648.0" r="5.1" fill="none" stroke="#cc3030" stroke-width="1.4"/>
<circle cx="359.0" cy="644.4" r="5.1" fill="none" stroke="#cc3030" stroke-width="1.4"/>
<circle cx="398.9" cy="655.3" r="5.1" fill="none" stroke="#cc3030" stroke-width="1.4"/>
<circle cx="427.2" cy="653.0" r="5.1" fill="none" stroke="#cc3030" stroke-width="1.4"/>
<circle cx="331.5" cy="688.6" r="5.1" fill="none" stroke="#cc3030" stroke-width="1.4"/>
<circle cx="388.7" cy="708.5" r="5.1" fill="none" stroke="#cc3030" stroke-width="1.4"/>
<circle cx="432.8" cy="709.1" r="5.1" fill="none" stroke="#cc3030" stroke-width="1.4"/>
<circle cx="309.0" cy="758.1" r="5.1" fill="none" stroke="#cc3030" stroke-width="1.4"/>
<circle cx="387.5" cy="749.9" r="5.1" fill="none" stroke="#cc3030" stroke-width="1.4"/>
<circle cx="450.6" cy="771.8" r="5.1" fill="none" stroke="#cc3030" stroke-width="1.4"/>
<circle cx="224.3" cy="727.7" r="5.1" fill="none" stroke="#cc3030" stroke-width="1.4"/>
<text transform="translate(584.6,587.2) scale(1.06,1)" font-size="23" text-anchor="start" >(b)</text>
<text transform="translate(57.5,1011.5) scale(1.06,1)" font-size="19.9"><tspan font-style="italic">x</tspan><tspan font-size="13.5" dy="4">2</tspan><tspan dy="-4">-HFC-134a</tspan></text>
<text transform="translate(491.4,1015.9) scale(1.06,1)" font-size="19.9"><tspan font-style="italic">x</tspan><tspan font-size="13.5" dy="4">1</tspan><tspan dy="-4">-HFO-1234ze(E)</tspan></text>
<text transform="translate(17.9,811.2) scale(1.06,1) rotate(-90)" font-size="22.3"><tspan font-style="italic">P</tspan><tspan font-style="italic" font-size="15.2" dy="4">c</tspan><tspan dy="-4">/kPa</tspan></text>
</svg>
</body></html>
